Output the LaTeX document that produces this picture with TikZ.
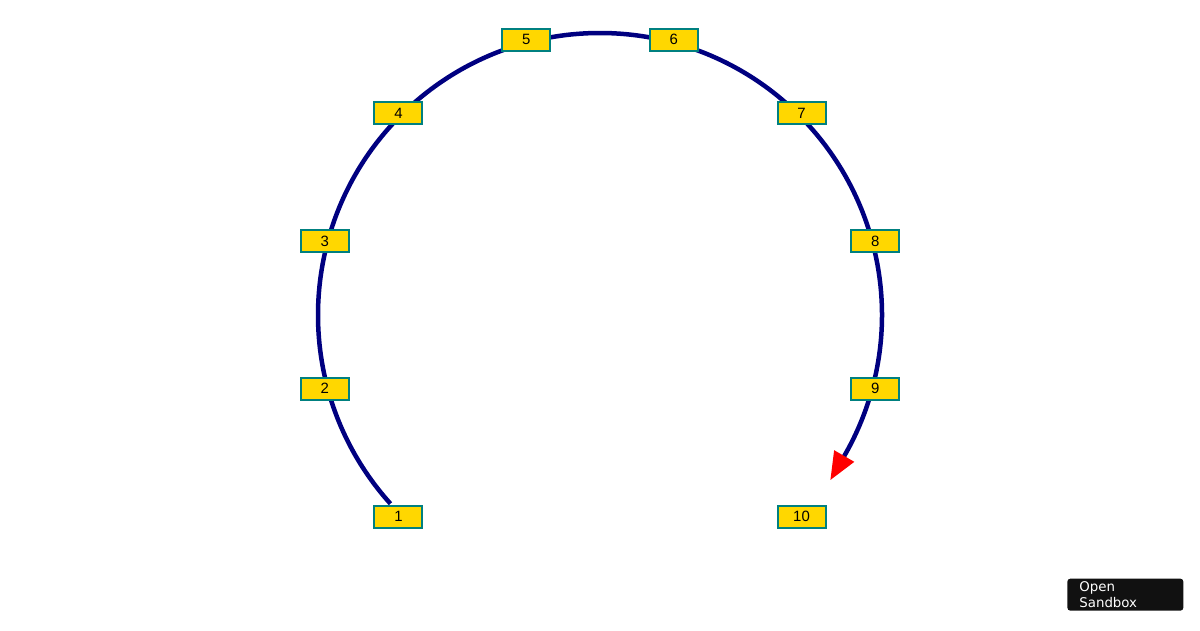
\documentclass[tikz,border=0pt]{standalone}
\usepackage{fontspec}
\setmainfont{Liberation Sans}
\newfontfamily\btnfont{DejaVu Sans}
\usetikzlibrary{arrows.meta}

\definecolor{slotfill}{HTML}{FFD700}
\definecolor{slotline}{HTML}{008080}
\definecolor{ringblue}{HTML}{000080}
\definecolor{btnblack}{HTML}{111111}

\begin{document}
\begin{tikzpicture}
\tikzstyle{slot}=[draw=slotline, fill=slotfill, line width=0.04cm, minimum width=0.96cm, minimum height=0.44cm, inner sep=0pt, font=\fontsize{8.5}{10}\selectfont]
\tikzstyle{ring}=[draw=ringblue, line width=0.09cm, -{Triangle[color=red, length=0.56cm, width=0.44cm]}]
\useasboundingbox (0,0) rectangle (24,12.6);
\begin{scope}[shift={(12,6.3)}]
\coordinate (ringstart) at (222:5.64);
\draw [ring] (ringstart) arc [start angle=222, end angle=-30, radius=5.64] -- ++(-120:0.56) coordinate (ringend);
\foreach \i [evaluate=\i as \a using 255-30*\i] in {1,...,10}
  \node [slot] (n\i) at (\a:5.7) {\i};
\end{scope}
% embed button
\node [fill=btnblack, rounded corners=0.06cm, minimum width=2.32cm, minimum height=0.64cm, anchor=south west, inner sep=0pt] (btn) at (21.34,0.38) {};
\node [anchor=west, text=white, align=left, inner sep=0pt, font=\btnfont\fontsize{7.6}{9}\selectfont] (btntext) at ([xshift=0.24cm]btn.west) {Open\\Sandbox};
\end{tikzpicture}
\end{document}
